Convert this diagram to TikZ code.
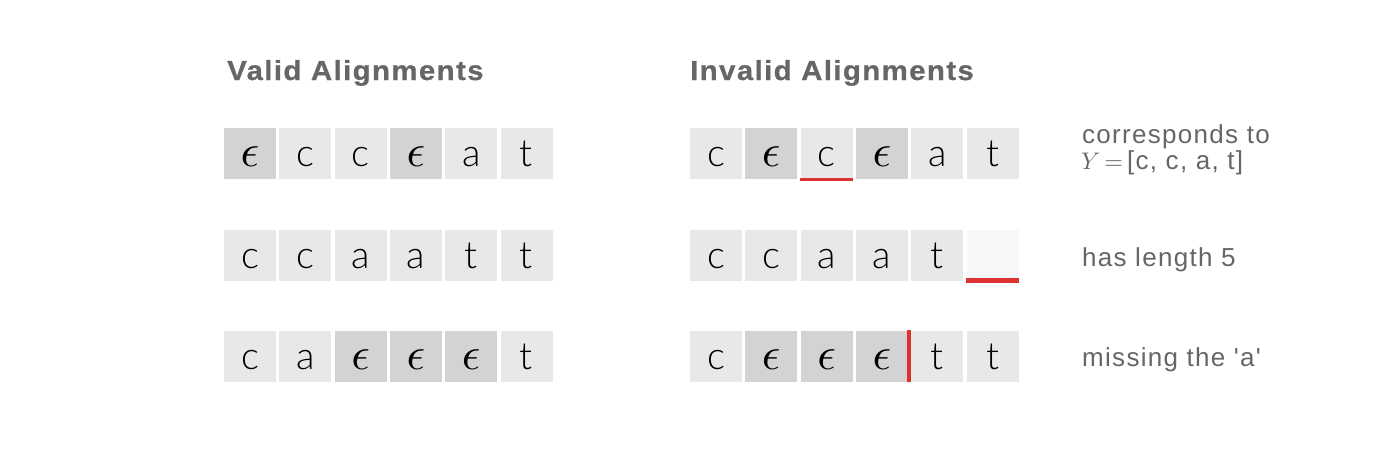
\documentclass[tikz,border=0pt]{standalone}
\usepackage{amsmath,amssymb}
\usepackage{fontspec}
\setmainfont{Liberation Sans}
\newfontfamily\cellfont{Lato Light}
\newfontfamily\notefont[LetterSpace=5]{Liberation Sans}
\newfontfamily\titlefont[LetterSpace=5,FakeStretch=1.07,FakeBold=0.7]{Liberation Sans Bold}
\usetikzlibrary{positioning}

\definecolor{cellgray}{HTML}{E8E8E8}
\definecolor{epsgray}{HTML}{D3D3D3}
\definecolor{blankgray}{HTML}{F7F7F7}
\definecolor{textgray}{HTML}{666666}
\definecolor{markred}{HTML}{DC3232}

\newcommand{\eps}{{\fontsize{10}{12}\selectfont\scalebox{4.6}{$\epsilon$}}\hspace{9pt}}
\newcommand{\mathY}{{\fontsize{10}{12}\selectfont\scalebox{2.4}{$Y{\,}{=}{\,}$}}}

\tikzset{
  cell/.style={fill=cellgray, minimum width=52pt, minimum height=51pt,
    inner sep=0pt, text height=26pt, text depth=0pt,
    font=\cellfont\fontsize{38}{38}\selectfont},
  epscell/.style={cell, fill=epsgray},
  blankcell/.style={cell, fill=blankgray},
  heading/.style={anchor=base west, inner sep=0pt, text=textgray,
    font=\titlefont\fontsize{27.5}{27.5}\selectfont},
  note/.style={anchor=base west, inner sep=0pt, text=textgray,
    font=\notefont\fontsize{26}{26}\selectfont},
  redmark/.style={draw=markred, line width=3.5pt},
}

\begin{document}
\begin{tikzpicture}[x=1pt, y=-1pt]
  \useasboundingbox (0,0) rectangle (1382,448);

  % headings
  \node[heading] (validhead) at (227,80) {Valid Alignments};
  \node[heading] (invalidhead) at (690,80) {Invalid Alignments};

  % valid alignments
  \foreach \s/\t [count=\i] in {epscell/\eps, cell/c, cell/c, epscell/\eps, cell/a, cell/t}
    \node[\s] (v1-\i) at ({250+55.3*(\i-1)},153) {\t};
  \foreach \s/\t [count=\i] in {cell/c, cell/c, cell/a, cell/a, cell/t, cell/t}
    \node[\s] (v2-\i) at ({250+55.3*(\i-1)},255) {\t};
  \foreach \s/\t [count=\i] in {cell/c, cell/a, epscell/\eps, epscell/\eps, epscell/\eps, cell/t}
    \node[\s] (v3-\i) at ({250+55.3*(\i-1)},356) {\t};

  % invalid alignments
  \foreach \s/\t [count=\i] in {cell/c, epscell/\eps, cell/c, epscell/\eps, cell/a, cell/t}
    \node[\s] (i1-\i) at ({716+55.3*(\i-1)},153) {\t};
  \foreach \s/\t [count=\i] in {cell/c, cell/c, cell/a, cell/a, cell/t, blankcell/{}}
    \node[\s] (i2-\i) at ({716+55.3*(\i-1)},255) {\t};
  \foreach \s/\t [count=\i] in {cell/c, epscell/\eps, epscell/\eps, epscell/\eps, cell/t, cell/t}
    \node[\s] (i3-\i) at ({716+55.3*(\i-1)},356) {\t};

  % what is wrong
  \draw[redmark] ([yshift=-0.6pt]i1-3.south west) -- ([yshift=-0.6pt]i1-3.south east);
  \draw[redmark, line width=4.5pt] (i2-6.south west) -- (i2-6.south east);
  \draw[redmark, line width=4pt] ([xshift=1pt]i3-4.north east) -- ([xshift=1pt]i3-4.south east);

  % notes
  \node[note] (note1) at (1082,143.3) {corresponds to};
  \node[note] (note1b) at (1081,169.3) {\mathY[c, c, a, t]};
  \node[note] (note2) at (1082,266.7) {has length 5};
  \node[note] (note3) at (1082,366.7) {missing the 'a'};
\end{tikzpicture}
\end{document}
